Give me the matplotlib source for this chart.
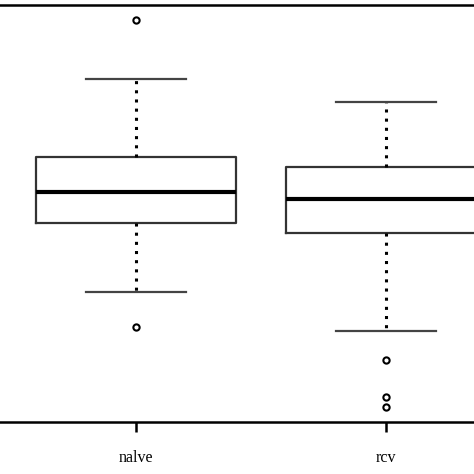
import matplotlib.pyplot as plt

# box statistics (arbitrary units)
groups = ["nalve", "rcv"]
whisker_low = [3.275, 2.3]
q1 = [5.025, 4.775]
median = [5.8, 5.625]
q3 = [6.675, 6.425]
whisker_high = [8.65, 8.075]
outliers = [[10.125, 2.4], [1.575, 0.65, 0.4]]

stats = []
for i, name in enumerate(groups):
    stats.append(dict(label=name, whislo=whisker_low[i], q1=q1[i], med=median[i],
                      q3=q3[i], whishi=whisker_high[i], fliers=outliers[i]))

W = H = 474
fig = plt.figure(figsize=(4.74, 4.74), dpi=100)
# plot region is wider than the image, as in the cropped original
ax = fig.add_axes([-9 / W, (474 - 422) / H, 540 / W, (422 - 4.7) / H])

ax.bxp(stats, positions=[1, 2], widths=0.8,
       boxprops=dict(color="#333333", linewidth=1.6),
       medianprops=dict(color="black", linewidth=3.0),
       whiskerprops=dict(color="black", linewidth=2.2, linestyle=(0, (1, 2))),
       capprops=dict(color="#444444", linewidth=1.6),
       flierprops=dict(marker="o", markersize=4.5, markerfacecolor="white",
                       markeredgecolor="black", markeredgewidth=1.5),
       capwidths=0.4)

all_vals = [v for o in outliers for v in o] + whisker_low + whisker_high
lo, hi = min(all_vals), max(all_vals)
pad = (hi - lo) * 0.04
ax.set_ylim(lo - pad, hi + pad)
ax.set_xlim(0.42, 2.58)

for s in ["left", "right"]:
    ax.spines[s].set_visible(False)
for s in ["top", "bottom"]:
    ax.spines[s].set_linewidth(1.8)
ax.set_yticks([])
ax.set_xticks([1, 2])
ax.set_xticklabels(groups, family="Liberation Serif", fontsize=11.5)
ax.tick_params(axis="x", length=7.5, width=1.8, pad=13)

fig.savefig("out.png", dpi=100)
